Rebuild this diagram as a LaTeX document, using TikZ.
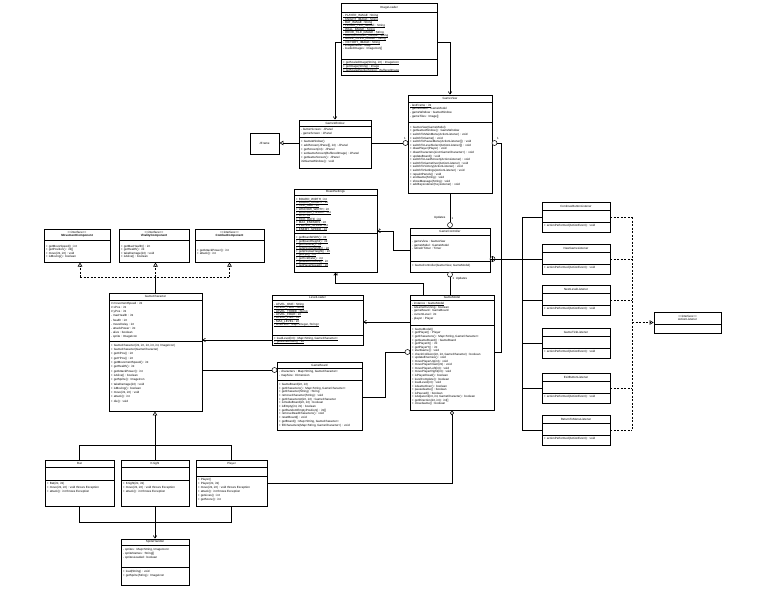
\documentclass[tikz,border=0pt]{standalone}
\usepackage{fontspec}
\setmainfont{Liberation Sans}
\usetikzlibrary{arrows.meta,fit}

\tikzset{
  clsbox/.style={draw, line width=0.9pt, inner sep=0pt},
  sepline/.style={line width=0.6pt},
  ttl/.style={font=\fontsize{3}{3.4}\selectfont, inner sep=0pt, align=center},
  mem/.style={font=\fontsize{3}{#1}\selectfont, inner sep=0pt, align=left, anchor=north west},
  mem/.default=3.6,
  conn/.style={line width=0.6pt},
  real/.style={line width=0.6pt, dash pattern=on 2pt off 1.5pt},
  inh/.style={-{Triangle[open, length=4pt, width=4.5pt]}},
  assoc/.style={-{Straight Barb[length=2.5pt, width=3.5pt]}},
  dia/.style={-{Diamond[open, length=5pt, width=4pt]}},
  lolli/.style={circle, draw, line width=0.5pt, minimum size=5pt, inner sep=0pt, fill=white},
  lbl/.style={font=\fontsize{3}{3.4}\selectfont, inner sep=0.5pt},
}

\newcommand\stt[1]{\setbox0=\hbox{#1}\rlap{\rule[-0.45pt]{\wd0}{0.22pt}}\box0}

\newcommand\umlcls[8]{%
  \coordinate (#1-nw) at (#2,#3);
  \coordinate (#1-se) at (#4,#5);
  \node[clsbox, fit=(#1-nw)(#1-se)] (#1) {};
  \draw[sepline] (#2,#6) -- (#4,#6);
  \ifx\relax#7\relax\else\draw[sepline] (#2,#7) -- (#4,#7);\fi
  \node[ttl] (#1-title) at ({(#2+#4)/2},{(#3+#6)/2}) {#8};
}
\newcommand\umlmem[5][3.6]{\node[mem=#1] (#2) at (#3,#4) {#5};}

\begin{document}
\lineskiplimit=-10pt\relax
\lineskip=0pt\relax
\begin{tikzpicture}[x=1pt,y=-1pt]
\useasboundingbox (0,0) rectangle (768,589);

% ---------- ImageLoader
\umlcls{ImageLoader}{341}{3}{437}{75}{12}{59}{ImageLoader}
\umlmem[3.3]{il-a}{343}{14.5}{\stt{- PLAYER\_IMAGE : String}\\\stt{- KNIGHT\_IMAGE : String}\\\stt{- BAT\_IMAGE : String}\\\stt{- FLOOR\_TILE\_IMAGE : String}\\\stt{- WALL\_IMAGE : String}\\\stt{- DOOR\_TILE\_IMAGE : String}\\\stt{- BACKGROUND\_IMAGE : String}\\\stt{- GAME\_OVER\_IMAGE : String}\\\stt{- VICTORY\_IMAGE : String}\\- imageCache : Map\\- loadedImages : ImageIcon[]}
\umlmem[3.6]{il-m}{343}{61.5}{\stt{+ getScaledImage(String, int) : ImageIcon}\\\stt{+ getImage(String) : Image}\\\stt{+ getScaledSprite(String) : BufferedImage}}

% ---------- GameView
\umlcls{GameView}{408}{95}{492}{193}{102}{122}{GameView}
\umlmem[3.6]{gv-a}{410}{104}{\stt{- lastFrame : int}\\- gameModel : GameModel\\- gameWindow : GameWindow\\- gameTiles : Image[]}
\umlmem[3.6]{gv-m}{410}{126}{+ GameView(GameModel)\\+ getGameWindow() : GameWindow\\+ switchToMainMenu(ActionListener) : void\\+ switchToGame() : void\\+ switchToPauseMenu(ActionListener[]) : void\\+ switchToLevelSelect(ActionListener[]) : void\\+ drawPlayer(Player) : void\\+ drawCharacters(List<GameCharacter>) : void\\+ updateBoard() : void\\+ switchToLoadScreen(ActionListener) : void\\+ switchToGameOver(ActionListener) : void\\+ switchToVictory(ActionListener) : void\\+ switchToSettings(ActionListener) : void\\+ repaintPanels() : void\\+ endGame(String) : void\\+ showMessage(String) : void\\+ addKeyListener(KeyListener) : void}

% ---------- GameWindow
\umlcls{GameWindow}{299}{120}{371}{168}{126}{137}{GameWindow}
\umlmem[3.8]{gw-a}{301}{128.5}{- buttonScreen : JPanel\\- gameScreen : JPanel}
\umlmem[4]{gw-m}{301}{140}{+ GameWindow()\\+ addScreen(JPanel[], int) : JPanel\\+ getScreen(int) : JPanel\\+ setGameScreen(BufferedImage) : JPanel\\+ getGameScreen() : JPanel\\initGameWindow() : void}

% ---------- JFrame
\coordinate (JFrame-nw) at (250,133);
\coordinate (JFrame-se) at (279,154);
\node[clsbox, fit=(JFrame-nw)(JFrame-se)] (JFrame) {};
\node[ttl] (JFrame-title) at (JFrame.center) {JFrame};

% ---------- BoardSettings
\umlcls{BoardSettings}{294}{189}{377}{272}{195}{233}{BoardSettings}
\umlmem[3.3]{bs-a}{296}{198}{\stt{+ BOARD\_WIDTH : int}\\\stt{+ BOARD\_HEIGHT : int}\\\stt{+ TILE\_SIZE : int}\\\stt{+ WINDOW\_WIDTH : int}\\\stt{+ WINDOW\_HEIGHT : int}\\\stt{+ FPS : int}\\\stt{+ TICK\_RATE : int}\\\stt{+ MAX\_ENEMIES : int}\\\stt{+ PLAYER\_SPEED : int}\\\stt{+ ENEMY\_SPEED : int}}
\umlmem[3.4]{bs-m}{296}{236.5}{\stt{+ getBoardWidth() : int}\\\stt{+ getBoardHeight() : int}\\\stt{+ getTileSize() : int}\\\stt{+ getWindowWidth() : int}\\\stt{+ getWindowHeight() : int}\\\stt{+ getFps() : int}\\\stt{+ getTickRate() : int}\\\stt{+ getMaxEnemies() : int}\\\stt{+ getPlayerSpeed() : int}}

% ---------- GameController
\umlcls{GameController}{410}{228}{490}{272}{235}{261}{GameController}
\umlmem[3.8]{gc-a}{412}{240}{- gameView : GameView\\- gameModel : GameModel\\- refreshTimer : Timer}
\umlmem{gc-m}{412}{264.5}{+ GameController(GameView, GameModel)}

% ---------- Interfaces
\umlcls{MoveComp}{44}{229}{110}{262}{240}{}{<{}<interface>{}>\\\textbf{MovementComponent}}
\umlmem[3.4]{mc-m}{46}{245}{+ getMoveSpeed() : int\\+ getPosition() : int[]\\+ move(int, int) : void\\+ isMoving() : boolean}
\umlcls{VitComp}{119}{229}{189}{262}{240}{}{<{}<interface>{}>\\\textbf{VitalityComponent}}
\umlmem[3.4]{vc-m}{121}{245}{+ getMaxHealth() : int\\+ getHealth() : int\\+ takeDamage(int) : void\\+ isAlive() : boolean}
\umlcls{CombComp}{195}{229}{264}{262}{240}{}{<{}<interface>{}>\\\textbf{CombatComponent}}
\umlmem[3.4]{cc-m}{197}{249}{+ getAttackPower() : int\\+ attack() : int}

% ---------- GameCharacter
\umlcls{GameCharacter}{109}{293}{202}{411}{300}{341}{GameCharacter}
\umlmem[4.2]{gch-a}{111}{302}{\# movementSpeed : int\\\# xPos : int\\\# yPos : int\\- maxHealth : int\\- health : int\\- moveDelay : int\\- attackPower : int\\- alive : boolean\\- sprite : ImageIcon}
\umlmem[4.3]{gch-m}{111}{344}{+ GameCharacter(int, int, int, int, int, ImageIcon)\\+ GameCharacter(GameCharacter)\\+ getXPos() : int\\+ getYPos() : int\\+ getMovementSpeed() : int\\+ getHealth() : int\\+ getAttackPower() : int\\+ isAlive() : boolean\\+ getSprite() : ImageIcon\\+ takeDamage(int) : void\\+ isMoving() : boolean\\+ move(int, int) : void\\+ attack() : int\\+ die() : void}

% ---------- LevelLoader
\umlcls{LevelLoader}{272}{295}{363}{345}{300}{335}{LevelLoader}
\umlmem[3.4]{ll-a}{274}{303}{\stt{- LEVEL\_ONE : String}\\\stt{- LEVEL\_TWO : String}\\\stt{- LEVEL\_THREE : String}\\\stt{- LEVEL\_FOUR : int}\\\stt{- LEVEL\_FIVE : int}\\\stt{- MAX\_LEVEL : int}\\\stt{- levelFiles : Map<Integer, String>}}
\umlmem[3.3]{ll-m}{274}{337}{\stt{+ loadLevel(int) : Map<String, GameCharacter>}\\\stt{+ getLevelCount() : int}}

% ---------- GameModel
\umlcls{GameModel}{410}{295}{494}{410}{300}{325}{GameModel}
\umlmem[3.8]{gm-a}{412}{302}{\stt{- instance : GameModel}\\- isGameRunning : boolean\\- gameBoard : GameBoard\\- currentLevel : int\\- player : Player}
\umlmem[3.55]{gm-m}{412}{328}{+ GameModel()\\+ getPlayer() : Player\\+ getCharacters() : Map<String, GameCharacter>\\+ getGameBoard() : GameBoard\\+ getPlayerX() : int\\+ getPlayerY() : int\\+ startGame() : void\\+ checkCollision(int, int, GameCharacter) : boolean\\+ updateEnemies() : void\\+ movePlayerUp(int) : void\\+ movePlayerDown(int) : void\\+ movePlayerLeft(int) : void\\+ movePlayerRight(int) : void\\+ isPlayerDead() : boolean\\+ levelComplete() : boolean\\+ loadLevel(int) : void\\+ isGameOver() : boolean\\+ pauseGame() : boolean\\+ isPaused() : boolean\\+ isAdjacent(int, int, GameCharacter) : boolean\\+ getDirection(int, int) : int[]\\+ closeGame() : boolean}

% ---------- GameBoard
\umlcls{GameBoard}{277}{362}{362}{430}{368}{380}{GameBoard}
\umlmem[3.6]{gb-a}{279}{370.5}{- characters : Map<String, GameCharacter>\\- mapSize : Dimension}
\umlmem[3.7]{gb-m}{279}{383}{+ GameBoard(int, int)\\+ getCharacters() : Map<String, GameCharacter>\\+ getCharacter(String) : String\\+ removeCharacter(String) : void\\+ getCharacterAt(int, int) : GameCharacter\\+ isInsideBoard(int, int) : boolean\\+ isEmpty(int, int) : boolean\\+ getRandomEmptyPosition() : int[]\\+ removeDeadCharacters() : void\\+ resetBoard() : void\\+ getBoard() : Map<String, GameCharacter>\\+ fillCharacters(Map<String, GameCharacter>) : void}

% ---------- Listeners
\umlcls{L1}{542}{202}{610}{232}{210}{222}{ContinueButtonListener}
\umlmem{l1-m}{544}{224.5}{+ actionPerformed(ActionEvent) : void}
\umlcls{L2}{542}{244}{610}{274}{252}{264}{NewGameListener}
\umlmem{l2-m}{544}{266.5}{+ actionPerformed(ActionEvent) : void}
\umlcls{L3}{542}{285}{610}{315}{293}{305}{NextLevelListener}
\umlmem{l3-m}{544}{307.5}{+ actionPerformed(ActionEvent) : void}
\umlcls{L4}{542}{328}{610}{358}{336}{348}{GameTickListener}
\umlmem{l4-m}{544}{350.5}{+ actionPerformed(ActionEvent) : void}
\umlcls{L5}{542}{373}{610}{403}{381}{393}{ExitButtonListener}
\umlmem{l5-m}{544}{395.5}{+ actionPerformed(ActionEvent) : void}
\umlcls{L6}{542}{415}{610}{445}{423}{435}{ReturnToMenuListener}
\umlmem{l6-m}{544}{437.5}{+ actionPerformed(ActionEvent) : void}

\umlcls{ActionListener}{654}{312}{721}{333}{324}{}{<{}<interface>{}>\\ActionListener}

% ---------- Bottom classes
\umlcls{Bat}{45}{460}{114}{506}{467}{480}{Bat}
\umlmem[4.2]{bat-m}{47}{482}{+ Bat(int, int)\\+ move(int, int) : void throws Exception\\+ attack() : int throws Exception}
\umlcls{Knight}{121}{460}{189}{506}{467}{480}{Knight}
\umlmem[4.2]{kn-m}{123}{482}{+ Knight(int, int)\\+ move(int, int) : void throws Exception\\+ attack() : int throws Exception}
\umlcls{Player}{196}{460}{267}{506}{467}{476}{Player}
\umlmem[4]{pl-m}{198}{478}{+ Player()\\+ Player(int, int)\\+ move(int, int) : void throws Exception\\+ attack() : int throws Exception\\+ getLives() : int\\+ getScore() : int}
\umlcls{SpriteHandler}{121}{539}{189}{585}{545}{567}{SpriteHandler}
\umlmem[3.9]{sh-a}{123}{548}{- sprites : Map<String, ImageIcon>\\- spriteNames : String[]\\- spritesLoaded : boolean}
\umlmem[4]{sh-m}{123}{570}{+ load(String) : void\\+ getSprite(String) : ImageIcon}

% ================= connectors
\coordinate (ily) at (0,42);
\draw[conn,assoc] (ImageLoader.west |- ily) -| (GameWindow.north);
\draw[conn,assoc] (ImageLoader.east |- ily) -| (GameView.north);
\draw[conn,inh] (GameWindow.west |- 0,143) -- (JFrame.east |- 0,143);

% GameWindow - GameView
\node[lolli] (cGV) at (405.5,143) {};
\draw[conn] (GameWindow.east |- cGV) -- (cGV.west);
\node[lbl, anchor=south] (m1) at (405,140) {1};

% GameView - GameModel
\node[lolli] (cGVr) at (494.5,143) {};
\node[lbl, anchor=south] (m2) at (498,140) {1};
\coordinate (vr) at (501,0);
\draw[conn] (cGVr.east) -- (cGVr.east -| vr) -- (vr |- 0,352) -- (GameModel.east |- 0,352);

% GameView - GameController - GameModel
\node[lolli] (cGC1) at (450,225) {};
\draw[conn] (GameView.south -| cGC1) -- (cGC1.north);
\node[lbl, anchor=east] (lu1) at (446,218) {Updates};
\node[lbl, anchor=west] (m3) at (451,218) {1};
\node[lolli] (cGC2) at (450,274.5) {};
\draw[conn] (cGC2.south) -- (GameModel.north -| cGC2);
\node[lbl, anchor=west] (lu2) at (452,279) {1\hspace{1.5pt}Updates};

% GameController - BoardSettings
\coordinate (gcb1) at (393,250);
\draw[conn,assoc] (GameController.west |- gcb1) -- (gcb1) |- (BoardSettings.east |- 0,231);
\node[lbl, anchor=south west] (m4) at (378,231) {1};

% BoardSettings - GameModel
\draw[conn,assoc] (423,295) -- (423,283) -| (BoardSettings.south);
\node[lbl, anchor=north west] (m5) at (336,273) {1};

% containment + bus
\node[lolli] (plusGC) at (492.5,259) {};
\draw[line width=0.5pt] (plusGC.north) -- (plusGC.south) (plusGC.west) -- (plusGC.east);
\coordinate (bus) at (522,0);
\draw[conn] (plusGC.east) -- (plusGC.east -| bus);
\draw[conn] (L1.west -| bus) -- (L6.west -| bus);
\foreach \L in {L1,L2,L3,L4,L5,L6} { \draw[conn] (\L.west) -- (\L.west -| bus); }

% realization to ActionListener
\coordinate (dbus) at (632,0);
\foreach \L in {L1,L2,L3,L5,L6} { \draw[real] (\L.east) -- (\L.east -| dbus); }
\draw[real] (L1.east -| dbus) -- (L6.east -| dbus);
\draw[real,inh] (ActionListener.west -| dbus) -- (ActionListener.west);

% interfaces
\coordinate (ir) at (0,277);
\draw[real,inh] (80,277) -- (80,262.5);
\draw[real,inh] (155.5,277) -- (155.5,262.5);
\draw[real,inh] (229.5,277) -- (229.5,262.5);
\draw[real] (80,277) -- (229.5,277);
\draw[conn] (GameCharacter.north) -- (GameCharacter.north |- ir);

% model associations
\draw[conn,assoc] (LevelLoader.west |- 0,340) -- (GameCharacter.east |- 0,340);
\draw[conn,assoc] (GameModel.west |- 0,322) -- (LevelLoader.east |- 0,322);
\node[lolli] (cGB) at (274.5,370) {};
\draw[conn] (GameCharacter.east |- cGB) -- (cGB.west);
\node[lolli] (cGM) at (407.5,352) {};
\draw[conn] (GameBoard.east |- 0,397) -- (385,397) |- (cGM.west);
\draw[conn,dia] (Player.east |- 0,483) -| (GameModel.south);

% inheritance
\coordinate (ih) at (0,445);
\draw[conn] (Bat.north) |- (Player.north |- ih) -- (Player.north);
\draw[conn,inh] (Knight.north) -- (GameCharacter.south -| Knight.north);

% sprite usage
\draw[conn] (Bat.south) |- (Player.south |- 0,522) -- (Player.south);
\draw[conn,assoc] (Knight.south) -- (SpriteHandler.north);
\end{tikzpicture}
\end{document}
